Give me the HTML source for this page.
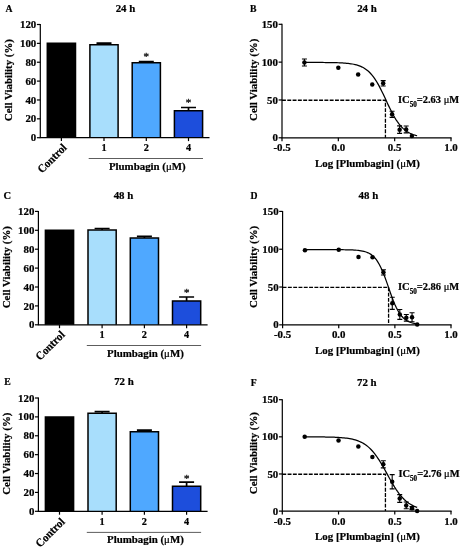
<!DOCTYPE html>
<html lang="en">
<head>
<meta charset="utf-8">
<title>Plumbagin cell viability</title>
<style>
html,body{margin:0;padding:0;background:#fff;}
body{width:464px;height:550px;overflow:hidden;}
svg{display:block;}
svg text{font-family:'Liberation Serif', 'Times New Roman', serif;font-weight:bold;fill:#000;stroke:#000;stroke-width:0.22px;stroke-linejoin:round;}
</style>
</head>
<body>
<svg width="464" height="550" viewBox="0 0 464 550">
<rect width="464" height="550" fill="#fff"/>
<g>
<text transform="translate(5.5 12.3) scale(0.99 1.035)" font-size="9.8" stroke-width="0.15">A</text>
<text transform="translate(125.5 12.3) scale(0.99 1.035)" font-size="11" text-anchor="middle">24 h</text>
<path d="M47.3 137.7V43.37H75.5V137.7" fill="#000000" stroke="#000" stroke-width="1.5" stroke-linejoin="miter"/>
<path d="M104 44.78V43.18M96.5 43.18H111.5" stroke="#000" stroke-width="1.7" fill="none"/>
<path d="M89.9 137.7V44.78H118.1V137.7" fill="#A8DEFC" stroke="#000" stroke-width="1.5" stroke-linejoin="miter"/>
<path d="M146.3 62.7V61.57M138.8 61.57H153.8" stroke="#000" stroke-width="1.7" fill="none"/>
<path d="M132.2 137.7V62.7H160.4V137.7" fill="#4FA8FF" stroke="#000" stroke-width="1.5" stroke-linejoin="miter"/>
<text transform="translate(146.3 60.07) scale(0.99 1.035)" font-size="11" text-anchor="middle" style="font-weight:normal;stroke:#222;stroke-width:0.4px;fill:#222">*</text>
<path d="M188.5 110.81V107.51M181 107.51H196" stroke="#000" stroke-width="1.7" fill="none"/>
<path d="M174.4 137.7V110.81H202.6V137.7" fill="#1D4EDC" stroke="#000" stroke-width="1.5" stroke-linejoin="miter"/>
<text transform="translate(188.5 106.01) scale(0.99 1.035)" font-size="11" text-anchor="middle" style="font-weight:normal;stroke:#222;stroke-width:0.4px;fill:#222">*</text>
<path d="M40.3 24V137.7H209.5" stroke="#000" stroke-width="1.2" fill="none"/>
<path d="M36.9 137.7H40.3" stroke="#000" stroke-width="1.2"/>
<text transform="translate(36.3 141.3) scale(0.99 1.035)" font-size="11" text-anchor="end">0</text>
<path d="M36.9 118.83H40.3" stroke="#000" stroke-width="1.2"/>
<text transform="translate(36.3 122.43) scale(0.99 1.035)" font-size="11" text-anchor="end">20</text>
<path d="M36.9 99.97H40.3" stroke="#000" stroke-width="1.2"/>
<text transform="translate(36.3 103.57) scale(0.99 1.035)" font-size="11" text-anchor="end">40</text>
<path d="M36.9 81.1H40.3" stroke="#000" stroke-width="1.2"/>
<text transform="translate(36.3 84.7) scale(0.99 1.035)" font-size="11" text-anchor="end">60</text>
<path d="M36.9 62.23H40.3" stroke="#000" stroke-width="1.2"/>
<text transform="translate(36.3 65.83) scale(0.99 1.035)" font-size="11" text-anchor="end">80</text>
<path d="M36.9 43.37H40.3" stroke="#000" stroke-width="1.2"/>
<text transform="translate(36.3 46.97) scale(0.99 1.035)" font-size="11" text-anchor="end">100</text>
<path d="M36.9 24.5H40.3" stroke="#000" stroke-width="1.2"/>
<text transform="translate(36.3 28.1) scale(0.99 1.035)" font-size="11" text-anchor="end">120</text>
<path d="M61.4 137.7V141.1" stroke="#000" stroke-width="1.2"/>
<path d="M104 137.7V141.1" stroke="#000" stroke-width="1.2"/>
<path d="M146.3 137.7V141.1" stroke="#000" stroke-width="1.2"/>
<path d="M188.5 137.7V141.1" stroke="#000" stroke-width="1.2"/>
<text transform="translate(104 151.1) scale(0.99 1.035)" font-size="10.4" text-anchor="middle">1</text>
<text transform="translate(146.3 151.1) scale(0.99 1.035)" font-size="10.4" text-anchor="middle">2</text>
<text transform="translate(188.5 151.1) scale(0.99 1.035)" font-size="10.4" text-anchor="middle">4</text>
<text transform="translate(67.5 148.3) rotate(-45) scale(0.99 1.035)" font-size="11" text-anchor="end">Control</text>
<path d="M88.7 158.5H203" stroke="#333" stroke-width="0.8"/>
<text transform="translate(147.3 169.7) scale(0.99 1.035)" font-size="11" text-anchor="middle">Plumbagin (<tspan font-weight="normal">μ</tspan>M)</text>
<text transform="translate(11.9 80.1) rotate(-90) scale(0.99 1.035)" font-size="11" text-anchor="middle">Cell Viability (%)</text>
</g>
<g>
<text transform="translate(3.6 199.3) scale(0.99 1.035)" font-size="10.6" stroke-width="0.15">C</text>
<text transform="translate(123.5 199.3) scale(0.99 1.035)" font-size="11" text-anchor="middle">48 h</text>
<path d="M45.4 324.8V230.3H73.6V324.8" fill="#000000" stroke="#000" stroke-width="1.5" stroke-linejoin="miter"/>
<path d="M102.1 230.11V228.5M94.6 228.5H109.6" stroke="#000" stroke-width="1.7" fill="none"/>
<path d="M88 324.8V230.11H116.2V324.8" fill="#A8DEFC" stroke="#000" stroke-width="1.5" stroke-linejoin="miter"/>
<path d="M144.4 237.95V236.35M136.9 236.35H151.9" stroke="#000" stroke-width="1.7" fill="none"/>
<path d="M130.3 324.8V237.95H158.5V324.8" fill="#4FA8FF" stroke="#000" stroke-width="1.5" stroke-linejoin="miter"/>
<path d="M186.6 300.89V297.02M179.1 297.02H194.1" stroke="#000" stroke-width="1.7" fill="none"/>
<path d="M172.5 324.8V300.89H200.7V324.8" fill="#1D4EDC" stroke="#000" stroke-width="1.5" stroke-linejoin="miter"/>
<text transform="translate(186.6 295.52) scale(0.99 1.035)" font-size="11" text-anchor="middle" style="font-weight:normal;stroke:#222;stroke-width:0.4px;fill:#222">*</text>
<path d="M38.4 210.9V324.8H207.6" stroke="#000" stroke-width="1.2" fill="none"/>
<path d="M35 324.8H38.4" stroke="#000" stroke-width="1.2"/>
<text transform="translate(34.4 328.4) scale(0.99 1.035)" font-size="11" text-anchor="end">0</text>
<path d="M35 305.9H38.4" stroke="#000" stroke-width="1.2"/>
<text transform="translate(34.4 309.5) scale(0.99 1.035)" font-size="11" text-anchor="end">20</text>
<path d="M35 287H38.4" stroke="#000" stroke-width="1.2"/>
<text transform="translate(34.4 290.6) scale(0.99 1.035)" font-size="11" text-anchor="end">40</text>
<path d="M35 268.1H38.4" stroke="#000" stroke-width="1.2"/>
<text transform="translate(34.4 271.7) scale(0.99 1.035)" font-size="11" text-anchor="end">60</text>
<path d="M35 249.2H38.4" stroke="#000" stroke-width="1.2"/>
<text transform="translate(34.4 252.8) scale(0.99 1.035)" font-size="11" text-anchor="end">80</text>
<path d="M35 230.3H38.4" stroke="#000" stroke-width="1.2"/>
<text transform="translate(34.4 233.9) scale(0.99 1.035)" font-size="11" text-anchor="end">100</text>
<path d="M35 211.4H38.4" stroke="#000" stroke-width="1.2"/>
<text transform="translate(34.4 215) scale(0.99 1.035)" font-size="11" text-anchor="end">120</text>
<path d="M59.5 324.8V328.2" stroke="#000" stroke-width="1.2"/>
<path d="M102.1 324.8V328.2" stroke="#000" stroke-width="1.2"/>
<path d="M144.4 324.8V328.2" stroke="#000" stroke-width="1.2"/>
<path d="M186.6 324.8V328.2" stroke="#000" stroke-width="1.2"/>
<text transform="translate(102.1 338.2) scale(0.99 1.035)" font-size="10.4" text-anchor="middle">1</text>
<text transform="translate(144.4 338.2) scale(0.99 1.035)" font-size="10.4" text-anchor="middle">2</text>
<text transform="translate(186.6 338.2) scale(0.99 1.035)" font-size="10.4" text-anchor="middle">4</text>
<text transform="translate(65.6 335.4) rotate(-45) scale(0.99 1.035)" font-size="11" text-anchor="end">Control</text>
<path d="M86.8 345.5H201.1" stroke="#333" stroke-width="0.8"/>
<text transform="translate(145.4 356.8) scale(0.99 1.035)" font-size="11" text-anchor="middle">Plumbagin (<tspan font-weight="normal">μ</tspan>M)</text>
<text transform="translate(10 267.2) rotate(-90) scale(0.99 1.035)" font-size="11" text-anchor="middle">Cell Viability (%)</text>
</g>
<g>
<text transform="translate(4.3 384.6) scale(0.99 1.035)" font-size="9.8" stroke-width="0.15">E</text>
<text transform="translate(124 385.1) scale(0.99 1.035)" font-size="11" text-anchor="middle">72 h</text>
<path d="M45.4 511.3V416.88H73.6V511.3" fill="#000000" stroke="#000" stroke-width="1.5" stroke-linejoin="miter"/>
<path d="M102.1 413.3V411.69M94.6 411.69H109.6" stroke="#000" stroke-width="1.7" fill="none"/>
<path d="M88 511.3V413.3H116.2V511.3" fill="#A8DEFC" stroke="#000" stroke-width="1.5" stroke-linejoin="miter"/>
<path d="M144.4 431.8V430.2M136.9 430.2H151.9" stroke="#000" stroke-width="1.7" fill="none"/>
<path d="M130.3 511.3V431.8H158.5V511.3" fill="#4FA8FF" stroke="#000" stroke-width="1.5" stroke-linejoin="miter"/>
<path d="M186.6 486.37V482.13M179.1 482.13H194.1" stroke="#000" stroke-width="1.7" fill="none"/>
<path d="M172.5 511.3V486.37H200.7V511.3" fill="#1D4EDC" stroke="#000" stroke-width="1.5" stroke-linejoin="miter"/>
<text transform="translate(186.6 481.93) scale(0.99 1.035)" font-size="11" text-anchor="middle" style="font-weight:normal;stroke:#222;stroke-width:0.4px;fill:#222">*</text>
<path d="M38.4 397.5V511.3H207.6" stroke="#000" stroke-width="1.2" fill="none"/>
<path d="M35 511.3H38.4" stroke="#000" stroke-width="1.2"/>
<text transform="translate(34.4 514.9) scale(0.99 1.035)" font-size="11" text-anchor="end">0</text>
<path d="M35 492.42H38.4" stroke="#000" stroke-width="1.2"/>
<text transform="translate(34.4 496.02) scale(0.99 1.035)" font-size="11" text-anchor="end">20</text>
<path d="M35 473.53H38.4" stroke="#000" stroke-width="1.2"/>
<text transform="translate(34.4 477.13) scale(0.99 1.035)" font-size="11" text-anchor="end">40</text>
<path d="M35 454.65H38.4" stroke="#000" stroke-width="1.2"/>
<text transform="translate(34.4 458.25) scale(0.99 1.035)" font-size="11" text-anchor="end">60</text>
<path d="M35 435.77H38.4" stroke="#000" stroke-width="1.2"/>
<text transform="translate(34.4 439.37) scale(0.99 1.035)" font-size="11" text-anchor="end">80</text>
<path d="M35 416.88H38.4" stroke="#000" stroke-width="1.2"/>
<text transform="translate(34.4 420.48) scale(0.99 1.035)" font-size="11" text-anchor="end">100</text>
<path d="M35 398H38.4" stroke="#000" stroke-width="1.2"/>
<text transform="translate(34.4 401.6) scale(0.99 1.035)" font-size="11" text-anchor="end">120</text>
<path d="M59.5 511.3V514.7" stroke="#000" stroke-width="1.2"/>
<path d="M102.1 511.3V514.7" stroke="#000" stroke-width="1.2"/>
<path d="M144.4 511.3V514.7" stroke="#000" stroke-width="1.2"/>
<path d="M186.6 511.3V514.7" stroke="#000" stroke-width="1.2"/>
<text transform="translate(102.1 524.7) scale(0.99 1.035)" font-size="10.4" text-anchor="middle">1</text>
<text transform="translate(144.4 524.7) scale(0.99 1.035)" font-size="10.4" text-anchor="middle">2</text>
<text transform="translate(186.6 524.7) scale(0.99 1.035)" font-size="10.4" text-anchor="middle">4</text>
<text transform="translate(65.6 522.5) rotate(-45) scale(0.99 1.035)" font-size="11" text-anchor="end">Control</text>
<path d="M86.8 532.4H201.1" stroke="#333" stroke-width="0.8"/>
<text transform="translate(145.4 543.3) scale(0.99 1.035)" font-size="11" text-anchor="middle">Plumbagin (<tspan font-weight="normal">μ</tspan>M)</text>
<text transform="translate(10 453.7) rotate(-90) scale(0.99 1.035)" font-size="11" text-anchor="middle">Cell Viability (%)</text>
</g>
<g>
<text transform="translate(250 12) scale(0.99 1.035)" font-size="9.8" stroke-width="0.15">B</text>
<text transform="translate(367 12.3) scale(0.99 1.035)" font-size="11" text-anchor="middle">24 h</text>
<path d="M282 100.27H385.43V137.8" stroke="#000" stroke-width="1.3" fill="none" stroke-dasharray="3.9 1.4"/>
<path d="M304.42 62.44 L305.83 62.44 L307.24 62.45 L308.65 62.45 L310.05 62.45 L311.46 62.45 L312.87 62.45 L314.28 62.46 L315.69 62.46 L317.1 62.46 L318.5 62.47 L319.91 62.48 L321.32 62.48 L322.73 62.49 L324.14 62.5 L325.55 62.51 L326.95 62.52 L328.36 62.54 L329.77 62.56 L331.18 62.58 L332.59 62.6 L334 62.63 L335.4 62.67 L336.81 62.71 L338.22 62.75 L339.63 62.81 L341.04 62.87 L342.45 62.95 L343.85 63.04 L345.26 63.14 L346.67 63.26 L348.08 63.41 L349.49 63.57 L350.9 63.77 L352.3 64 L353.71 64.26 L355.12 64.58 L356.53 64.94 L357.94 65.36 L359.35 65.85 L360.75 66.41 L362.16 67.06 L363.57 67.81 L364.98 68.68 L366.39 69.66 L367.8 70.79 L369.2 72.06 L370.61 73.5 L372.02 75.11 L373.43 76.9 L374.84 78.88 L376.25 81.04 L377.65 83.39 L379.06 85.91 L380.47 88.59 L381.88 91.41 L383.29 94.33 L384.7 97.33 L386.1 100.36 L387.51 103.39 L388.92 106.38 L390.33 109.28 L391.74 112.08 L393.15 114.74 L394.55 117.23 L395.96 119.55 L397.37 121.69 L398.78 123.64 L400.19 125.4 L401.6 126.98 L403 128.39 L404.41 129.64 L405.82 130.74 L407.23 131.71 L408.64 132.55 L410.05 133.28 L411.45 133.92 L412.86 134.47 L414.27 134.95 L415.68 135.36 L417.09 135.71" stroke="#000" stroke-width="1.25" fill="none"/>
<path d="M304.42 59.03V65.99M301.92 59.03H306.92M301.92 65.99H306.92" stroke="#000" stroke-width="1.1" fill="none"/>
<circle cx="304.42" cy="62.51" r="2.25" fill="#000"/>
<circle cx="338.33" cy="67.81" r="2.25" fill="#000"/>
<circle cx="358.16" cy="74.39" r="2.25" fill="#000"/>
<circle cx="372.25" cy="84.46" r="2.25" fill="#000"/>
<path d="M383.17 80.6V86.04M380.67 80.6H385.67M380.67 86.04H385.67" stroke="#000" stroke-width="1.1" fill="none"/>
<circle cx="383.17" cy="83.32" r="2.25" fill="#000"/>
<path d="M392.08 111.32V117.37M389.58 111.32H394.58M389.58 117.37H394.58" stroke="#000" stroke-width="1.1" fill="none"/>
<circle cx="392.08" cy="114.34" r="2.25" fill="#000"/>
<path d="M399.62 125.84V133.41M397.12 125.84H402.12M397.12 133.41H402.12" stroke="#000" stroke-width="1.1" fill="none"/>
<circle cx="399.62" cy="129.63" r="2.25" fill="#000"/>
<path d="M406.16 126.07V132.88M403.66 126.07H408.66M403.66 132.88H408.66" stroke="#000" stroke-width="1.1" fill="none"/>
<circle cx="406.16" cy="129.48" r="2.25" fill="#000"/>
<circle cx="411.9" cy="136.06" r="2.25" fill="#000"/>
<path d="M282 23.8V137.8H451.6" stroke="#000" stroke-width="1.2" fill="none"/>
<path d="M278.6 137.8H282" stroke="#000" stroke-width="1.2"/>
<text transform="translate(278 141.4) scale(0.99 1.035)" font-size="11" text-anchor="end">0</text>
<path d="M278.6 99.97H282" stroke="#000" stroke-width="1.2"/>
<text transform="translate(278 103.57) scale(0.99 1.035)" font-size="11" text-anchor="end">50</text>
<path d="M278.6 62.13H282" stroke="#000" stroke-width="1.2"/>
<text transform="translate(278 65.73) scale(0.99 1.035)" font-size="11" text-anchor="end">100</text>
<path d="M278.6 24.3H282" stroke="#000" stroke-width="1.2"/>
<text transform="translate(278 27.9) scale(0.99 1.035)" font-size="11" text-anchor="end">150</text>
<path d="M282 137.8V141.2" stroke="#000" stroke-width="1.2"/>
<text transform="translate(282 151.3) scale(0.99 1.035)" font-size="11" text-anchor="middle">-0.5</text>
<path d="M338.33 137.8V141.2" stroke="#000" stroke-width="1.2"/>
<text transform="translate(338.33 151.3) scale(0.99 1.035)" font-size="11" text-anchor="middle">0.0</text>
<path d="M394.67 137.8V141.2" stroke="#000" stroke-width="1.2"/>
<text transform="translate(394.67 151.3) scale(0.99 1.035)" font-size="11" text-anchor="middle">0.5</text>
<path d="M451 137.8V141.2" stroke="#000" stroke-width="1.2"/>
<text transform="translate(451 151.3) scale(0.99 1.035)" font-size="11" text-anchor="middle">1.0</text>
<text transform="translate(367.5 166.8) scale(0.99 1.035)" font-size="11" text-anchor="middle">Log [Plumbagin] (<tspan font-weight="normal">μ</tspan>M)</text>
<text transform="translate(256.7 79.8) rotate(-90) scale(0.99 1.035)" font-size="11" text-anchor="middle">Cell Viability (%)</text>
<text transform="translate(398 102.5) scale(0.99 1.035)" font-size="10.6">IC<tspan font-size="7.2" dy="4.2">50</tspan><tspan dy="-4.2">=2.63 </tspan><tspan font-weight="normal">μ</tspan>M</text>
</g>
<g>
<text transform="translate(250.6 198.8) scale(0.99 1.035)" font-size="9.8" stroke-width="0.15">D</text>
<text transform="translate(368.4 199.3) scale(0.99 1.035)" font-size="11" text-anchor="middle">48 h</text>
<path d="M282.6 287.33H388.58V324.85" stroke="#000" stroke-width="1.3" fill="none" stroke-dasharray="3.9 1.4"/>
<path d="M304.94 249.67 L306.34 249.67 L307.75 249.67 L309.15 249.67 L310.55 249.67 L311.96 249.67 L313.36 249.67 L314.76 249.67 L316.17 249.67 L317.57 249.67 L318.97 249.67 L320.38 249.67 L321.78 249.67 L323.18 249.67 L324.59 249.67 L325.99 249.68 L327.39 249.68 L328.8 249.68 L330.2 249.68 L331.6 249.68 L333.01 249.69 L334.41 249.69 L335.81 249.69 L337.22 249.7 L338.62 249.71 L340.02 249.71 L341.43 249.72 L342.83 249.74 L344.23 249.75 L345.64 249.77 L347.04 249.8 L348.44 249.83 L349.85 249.87 L351.25 249.92 L352.65 249.97 L354.06 250.05 L355.46 250.14 L356.86 250.25 L358.27 250.39 L359.67 250.56 L361.07 250.77 L362.48 251.03 L363.88 251.34 L365.28 251.74 L366.69 252.22 L368.09 252.81 L369.49 253.52 L370.9 254.39 L372.3 255.44 L373.7 256.7 L375.11 258.21 L376.51 259.98 L377.91 262.06 L379.32 264.45 L380.72 267.19 L382.12 270.25 L383.53 273.63 L384.93 277.28 L386.33 281.15 L387.74 285.15 L389.14 289.21 L390.54 293.21 L391.95 297.09 L393.35 300.75 L394.75 304.14 L396.16 307.22 L397.56 309.96 L398.96 312.37 L400.37 314.46 L401.77 316.25 L403.17 317.76 L404.58 319.03 L405.98 320.09 L407.38 320.97 L408.79 321.69 L410.19 322.28 L411.59 322.77 L413 323.16 L414.4 323.48 L415.8 323.74 L417.21 323.96" stroke="#000" stroke-width="1.25" fill="none"/>
<circle cx="304.94" cy="250.2" r="2.25" fill="#000"/>
<circle cx="338.73" cy="249.67" r="2.25" fill="#000"/>
<circle cx="358.49" cy="257.08" r="2.25" fill="#000"/>
<circle cx="372.53" cy="257.23" r="2.25" fill="#000"/>
<path d="M383.42 269.71V275.01M380.92 269.71H385.92M380.92 275.01H385.92" stroke="#000" stroke-width="1.1" fill="none"/>
<circle cx="383.42" cy="272.36" r="2.25" fill="#000"/>
<path d="M392.28 297.32V309.42M389.78 297.32H394.78M389.78 309.42H394.78" stroke="#000" stroke-width="1.1" fill="none"/>
<circle cx="392.28" cy="303.37" r="2.25" fill="#000"/>
<path d="M399.81 309.57V319.4M397.31 309.57H402.31M397.31 319.4H402.31" stroke="#000" stroke-width="1.1" fill="none"/>
<circle cx="399.81" cy="314.49" r="2.25" fill="#000"/>
<path d="M406.32 314.49V321.14M403.82 314.49H408.82M403.82 321.14H408.82" stroke="#000" stroke-width="1.1" fill="none"/>
<circle cx="406.32" cy="317.82" r="2.25" fill="#000"/>
<path d="M412.04 312.75V321.82M409.54 312.75H414.54M409.54 321.82H414.54" stroke="#000" stroke-width="1.1" fill="none"/>
<circle cx="412.04" cy="317.29" r="2.25" fill="#000"/>
<circle cx="417.21" cy="324.62" r="2.25" fill="#000"/>
<path d="M282.6 210.9V324.85H451.6" stroke="#000" stroke-width="1.2" fill="none"/>
<path d="M279.2 324.85H282.6" stroke="#000" stroke-width="1.2"/>
<text transform="translate(278.6 328.45) scale(0.99 1.035)" font-size="11" text-anchor="end">0</text>
<path d="M279.2 287.03H282.6" stroke="#000" stroke-width="1.2"/>
<text transform="translate(278.6 290.63) scale(0.99 1.035)" font-size="11" text-anchor="end">50</text>
<path d="M279.2 249.22H282.6" stroke="#000" stroke-width="1.2"/>
<text transform="translate(278.6 252.82) scale(0.99 1.035)" font-size="11" text-anchor="end">100</text>
<path d="M279.2 211.4H282.6" stroke="#000" stroke-width="1.2"/>
<text transform="translate(278.6 215) scale(0.99 1.035)" font-size="11" text-anchor="end">150</text>
<path d="M282.6 324.85V328.25" stroke="#000" stroke-width="1.2"/>
<text transform="translate(282.6 338.35) scale(0.99 1.035)" font-size="11" text-anchor="middle">-0.5</text>
<path d="M338.73 324.85V328.25" stroke="#000" stroke-width="1.2"/>
<text transform="translate(338.73 338.35) scale(0.99 1.035)" font-size="11" text-anchor="middle">0.0</text>
<path d="M394.87 324.85V328.25" stroke="#000" stroke-width="1.2"/>
<text transform="translate(394.87 338.35) scale(0.99 1.035)" font-size="11" text-anchor="middle">0.5</text>
<path d="M451 324.85V328.25" stroke="#000" stroke-width="1.2"/>
<text transform="translate(451 338.35) scale(0.99 1.035)" font-size="11" text-anchor="middle">1.0</text>
<text transform="translate(367.5 353.85) scale(0.99 1.035)" font-size="11" text-anchor="middle">Log [Plumbagin] (<tspan font-weight="normal">μ</tspan>M)</text>
<text transform="translate(257.3 266.85) rotate(-90) scale(0.99 1.035)" font-size="11" text-anchor="middle">Cell Viability (%)</text>
<text transform="translate(398 289.5) scale(0.99 1.035)" font-size="10.6">IC<tspan font-size="7.2" dy="4.2">50</tspan><tspan dy="-4.2">=2.86 </tspan><tspan font-weight="normal">μ</tspan>M</text>
</g>
<g>
<text transform="translate(250.7 385.5) scale(0.99 1.035)" font-size="9.8" stroke-width="0.15">F</text>
<text transform="translate(366.8 386.1) scale(0.99 1.035)" font-size="11" text-anchor="middle">72 h</text>
<path d="M282.3 474.27H385.43V511.1" stroke="#000" stroke-width="1.3" fill="none" stroke-dasharray="3.9 1.4"/>
<path d="M304.68 436.86 L306.09 436.86 L307.49 436.86 L308.9 436.87 L310.3 436.87 L311.71 436.88 L313.12 436.88 L314.52 436.89 L315.93 436.9 L317.33 436.91 L318.74 436.92 L320.15 436.94 L321.55 436.95 L322.96 436.97 L324.36 436.99 L325.77 437.01 L327.17 437.04 L328.58 437.07 L329.99 437.1 L331.39 437.14 L332.8 437.19 L334.2 437.24 L335.61 437.3 L337.02 437.37 L338.42 437.45 L339.83 437.54 L341.23 437.64 L342.64 437.76 L344.04 437.9 L345.45 438.05 L346.86 438.23 L348.26 438.43 L349.67 438.66 L351.07 438.92 L352.48 439.22 L353.89 439.56 L355.29 439.95 L356.7 440.39 L358.1 440.89 L359.51 441.45 L360.91 442.09 L362.32 442.8 L363.73 443.61 L365.13 444.51 L366.54 445.51 L367.94 446.63 L369.35 447.86 L370.76 449.22 L372.16 450.72 L373.57 452.34 L374.97 454.11 L376.38 456.01 L377.78 458.04 L379.19 460.19 L380.6 462.46 L382 464.82 L383.41 467.27 L384.81 469.78 L386.22 472.33 L387.63 474.89 L389.03 477.44 L390.44 479.97 L391.84 482.43 L393.25 484.82 L394.65 487.12 L396.06 489.31 L397.47 491.37 L398.87 493.31 L400.28 495.11 L401.68 496.77 L403.09 498.3 L404.5 499.7 L405.9 500.97 L407.31 502.12 L408.71 503.16 L410.12 504.08 L411.52 504.91 L412.93 505.65 L414.34 506.31 L415.74 506.89 L417.15 507.41" stroke="#000" stroke-width="1.25" fill="none"/>
<circle cx="304.68" cy="436.83" r="2.25" fill="#000"/>
<circle cx="338.53" cy="440.55" r="2.25" fill="#000"/>
<circle cx="358.33" cy="446.49" r="2.25" fill="#000"/>
<circle cx="372.39" cy="456.89" r="2.25" fill="#000"/>
<path d="M383.3 460.75V467.88M380.8 460.75H385.8M380.8 467.88H385.8" stroke="#000" stroke-width="1.1" fill="none"/>
<circle cx="383.3" cy="464.31" r="2.25" fill="#000"/>
<path d="M392.18 474.64V488.89M389.68 474.64H394.68M389.68 488.89H394.68" stroke="#000" stroke-width="1.1" fill="none"/>
<circle cx="392.18" cy="481.76" r="2.25" fill="#000"/>
<path d="M399.72 494.61V502.34M397.22 494.61H402.22M397.22 502.34H402.22" stroke="#000" stroke-width="1.1" fill="none"/>
<circle cx="399.72" cy="498.47" r="2.25" fill="#000"/>
<path d="M406.24 501.97V508.8M403.74 501.97H408.74M403.74 508.8H408.74" stroke="#000" stroke-width="1.1" fill="none"/>
<circle cx="406.24" cy="505.38" r="2.25" fill="#000"/>
<path d="M411.97 506.64V509.61M409.47 506.64H414.47M409.47 509.61H414.47" stroke="#000" stroke-width="1.1" fill="none"/>
<circle cx="411.97" cy="508.13" r="2.25" fill="#000"/>
<circle cx="417.15" cy="510.88" r="2.25" fill="#000"/>
<path d="M282.3 399.2V511.1H451.6" stroke="#000" stroke-width="1.2" fill="none"/>
<path d="M278.9 511.1H282.3" stroke="#000" stroke-width="1.2"/>
<text transform="translate(278.3 514.7) scale(0.99 1.035)" font-size="11" text-anchor="end">0</text>
<path d="M278.9 473.97H282.3" stroke="#000" stroke-width="1.2"/>
<text transform="translate(278.3 477.57) scale(0.99 1.035)" font-size="11" text-anchor="end">50</text>
<path d="M278.9 436.83H282.3" stroke="#000" stroke-width="1.2"/>
<text transform="translate(278.3 440.43) scale(0.99 1.035)" font-size="11" text-anchor="end">100</text>
<path d="M278.9 399.7H282.3" stroke="#000" stroke-width="1.2"/>
<text transform="translate(278.3 403.3) scale(0.99 1.035)" font-size="11" text-anchor="end">150</text>
<path d="M282.3 511.1V514.5" stroke="#000" stroke-width="1.2"/>
<text transform="translate(282.3 524.6) scale(0.99 1.035)" font-size="11" text-anchor="middle">-0.5</text>
<path d="M338.53 511.1V514.5" stroke="#000" stroke-width="1.2"/>
<text transform="translate(338.53 524.6) scale(0.99 1.035)" font-size="11" text-anchor="middle">0.0</text>
<path d="M394.77 511.1V514.5" stroke="#000" stroke-width="1.2"/>
<text transform="translate(394.77 524.6) scale(0.99 1.035)" font-size="11" text-anchor="middle">0.5</text>
<path d="M451 511.1V514.5" stroke="#000" stroke-width="1.2"/>
<text transform="translate(451 524.6) scale(0.99 1.035)" font-size="11" text-anchor="middle">1.0</text>
<text transform="translate(367.5 540.1) scale(0.99 1.035)" font-size="11" text-anchor="middle">Log [Plumbagin] (<tspan font-weight="normal">μ</tspan>M)</text>
<text transform="translate(257 453.1) rotate(-90) scale(0.99 1.035)" font-size="11" text-anchor="middle">Cell Viability (%)</text>
<text transform="translate(398.4 477) scale(0.99 1.035)" font-size="10.6">IC<tspan font-size="7.2" dy="4.2">50</tspan><tspan dy="-4.2">=2.76 </tspan><tspan font-weight="normal">μ</tspan>M</text>
</g>
</svg>
</body>
</html>
